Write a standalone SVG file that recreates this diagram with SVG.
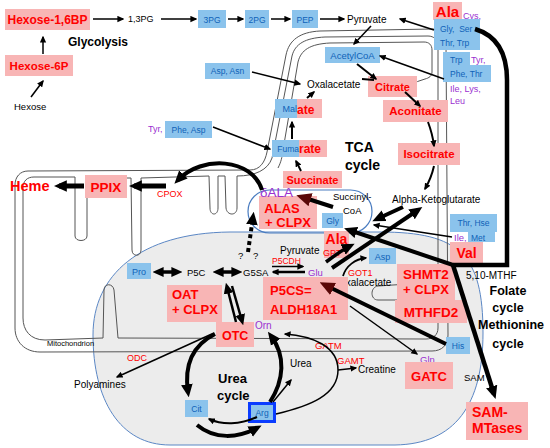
<svg xmlns="http://www.w3.org/2000/svg" width="550" height="448" viewBox="0 0 550 448">
<style>
text{font-family:"Liberation Sans",Arial,sans-serif}
.pk{fill:#f8b5b5}
.bl{fill:#8bc3ec}
.rt{fill:#ff0000;font-weight:bold}
.rs{fill:#ff0000}
.bt{fill:#0f62b8}
.pt{fill:#9b30d0}
.kt{fill:#000}
.kb{fill:#000;font-weight:bold}
.mito{stroke:#555;stroke-width:1;fill:none}
.t{stroke:#000;stroke-width:1.5;fill:none}
.k{stroke:#000;fill:none}
</style>
<defs>
<marker id="m" viewBox="0 0 10 10" refX="8" refY="5" markerWidth="7" markerHeight="7" markerUnits="userSpaceOnUse" orient="auto"><path d="M0,0.5 L10,5 L0,9.5 z"/></marker>
<marker id="mb" viewBox="0 0 10 10" refX="6" refY="5" markerWidth="13" markerHeight="13" markerUnits="userSpaceOnUse" orient="auto"><path d="M0,0.5 L10,5 L0,9.5 z"/></marker>
<marker id="mbs" viewBox="0 0 10 10" refX="6" refY="5" markerWidth="11" markerHeight="11" markerUnits="userSpaceOnUse" orient="auto-start-reverse"><path d="M0,0.5 L10,5 L0,9.5 z"/></marker>
<marker id="mr" viewBox="0 0 10 10" refX="6" refY="5" markerWidth="15" markerHeight="15" markerUnits="userSpaceOnUse" orient="auto"><path d="M0,0.5 L10,5 L0,9.5 z" fill="#5a0808"/></marker>
</defs>

<g id="compartments">
<path d="M93,335 C93,275 140,233 230,232 L380,232 C460,232 483,255 483,333 C483,405 455,444 395,445 L170,445 C120,445 93,400 93,335 Z" fill="#ececec" stroke="#5b87c5" stroke-width="1"/>
<path class="mito" d="M28,171 L250,170 C260,170 265,162 267,152 L286,55 C289,40 300,32 320,31 L433,29 C442,29 446,35 446,45 L448,335 C448,345 442,351 432,351 L40,352 C25,352 15,342 15,328 L15,185 C15,177 20,171 28,171 Z"/>
<path class="mito" d="M34,177 L75,177 L75,236 C75,242 87,242 87,236 L87,178 L131,178 L132,250 C132,257 141,257 141,250 L141,178 L209,176 L210,208 C210,216 218,216 218,208 L218,176 L225,176 L226,208 C227,216 237,216 237,208 L237,176 C255,176 268,170 272,158 L292,56 C295,44 305,38 325,37 L428,36 C434,36 438,40 438,46 L438,282 L378,286 C370,287 370,300 378,300 L438,300 L438,328 C438,335 433,339 426,339 L118,338 L114,290 C113,283 104,283 104,290 L103,338 L45,340 C30,340 23,330 23,318 L23,188 C23,181 27,177 34,177 Z"/>
<path class="mito" d="M278,168 C281,162 282,158 283,150 L298,62 C301,50 310,44 330,43 L424,42 C429,42 432,45 432,50 L432,72 C432,76 429,78 425,79 L419,81 C415,82 413,86 413,92"/>
<text x="47" y="345.5" font-size="7.5" class="kt">Mitochondrion</text>
<rect x="248" y="190" width="124" height="43" rx="21.5" fill="none" stroke="#4a7cc0" stroke-width="1.2"/>
</g>

<g id="glycolysis">
<g id="hexose16bp"><rect class="pk" x="5" y="9" width="85" height="21"/><text class="rt" x="47.5" y="23.8" font-size="12" text-anchor="middle">Hexose-1,6BP</text></g>
<g id="hexose6p"><rect class="pk" x="5" y="55" width="68" height="21"/><text class="rt" x="39" y="69.5" font-size="11.5" text-anchor="middle">Hexose-6P</text></g>
<g id="hexose"><text class="kt" x="14" y="110" font-size="9.5">Hexose</text></g>
<g id="glycolysis-label"><text class="kb" x="68" y="46" font-size="12">Glycolysis</text></g>
<g id="pg13"><text class="kt" x="128" y="22" font-size="9">1,3PG</text></g>
<g id="pg3"><rect class="bl" x="198" y="10" width="28" height="18"/><text class="bt" x="212" y="22.5" font-size="8.5" text-anchor="middle">3PG</text></g>
<g id="pg2"><rect class="bl" x="245" y="10" width="24" height="18"/><text class="bt" x="257" y="22.5" font-size="8.5" text-anchor="middle">2PG</text></g>
<g id="pep"><rect class="bl" x="292" y="10" width="26" height="18"/><text class="bt" x="305" y="22.5" font-size="8.5" text-anchor="middle">PEP</text></g>
<g id="pyruvate"><text class="kt" x="347" y="22.5" font-size="10">Pyruvate</text></g>
</g>

<g id="aminoacids-top">
<g id="ala-top"><rect class="pk" x="433" y="2" width="29" height="18"/><text class="rt" x="447.5" y="16.5" font-size="15" text-anchor="middle">Ala</text><text class="pt" x="463" y="19" font-size="9">Cys,</text></g>
<g id="glyser"><rect class="bl" x="434" y="19" width="46" height="31"/><text class="bt" x="440" y="32" font-size="8.5" xml:space="preserve">Gly,  Ser</text><text class="bt" x="440" y="45.5" font-size="8.5">Thr, Trp</text></g>
<g id="trp"><rect class="bl" x="443" y="52" width="27" height="14"/><rect class="bl" x="443" y="65" width="48" height="17"/><text class="bt" x="450" y="63" font-size="8.5">Trp</text><text class="pt" x="471" y="63" font-size="9">Tyr,</text><text class="bt" x="450" y="76.5" font-size="8.5">Phe, Thr</text><text class="pt" x="450" y="92" font-size="9">Ile, Lys,</text><text class="pt" x="450" y="104" font-size="9">Leu</text></g>
<g id="aspasn"><rect class="bl" x="205" y="63" width="45" height="16"/><text class="bt" x="227.5" y="74" font-size="8.5" text-anchor="middle">Asp, Asn</text></g>
<g id="pheasp"><text class="pt" x="148" y="131.5" font-size="9">Tyr,</text><rect class="bl" x="165" y="121" width="47" height="17"/><text class="bt" x="188.5" y="132.5" font-size="8.5" text-anchor="middle">Phe, Asp</text></g>
</g>

<g id="tca">
<g id="acetylcoa"><rect class="bl" x="325" y="47" width="55" height="16"/><text class="bt" x="352.5" y="58.5" font-size="9.5" text-anchor="middle">AcetylCoA</text></g>
<g id="oxalacetate-tca"><text class="kt" x="307" y="87.5" font-size="10">Oxalacetate</text></g>
<g id="citrate"><rect class="pk" x="368" y="76" width="49" height="21"/><text class="rt" x="392.5" y="90.5" font-size="11" text-anchor="middle">Citrate</text></g>
<g id="aconitate"><rect class="pk" x="383" y="100" width="65" height="22"/><text class="rt" x="415.5" y="115" font-size="11.5" text-anchor="middle">Aconitate</text></g>
<g id="isocitrate"><rect class="pk" x="398" y="143" width="62" height="22"/><text class="rt" x="429" y="158" font-size="11.5" text-anchor="middle">Isocitrate</text></g>
<g id="akg"><text class="kt" x="392" y="202.5" font-size="10">Alpha-Ketoglutarate</text></g>
<g id="succinylcoa"><text class="kt" x="333" y="200" font-size="9.5">Succinyl-</text><text class="kt" x="343" y="214" font-size="9.5">CoA</text></g>
<g id="gly"><rect class="bl" x="322" y="213" width="21" height="15"/><text class="bt" x="332.5" y="223.5" font-size="8.5" text-anchor="middle">Gly</text></g>
<g id="succinate"><rect class="pk" x="283" y="171" width="59" height="17"/><text class="rt" x="312.5" y="183.5" font-size="11" text-anchor="middle">Succinate</text></g>
<g id="fumarate"><rect class="bl" x="272" y="140" width="28" height="17"/><rect class="pk" x="299" y="140" width="28" height="17"/><text class="bt" x="299" y="151.5" font-size="8.5" text-anchor="end">Fuma</text><text class="rt" x="299" y="153" font-size="12">rate</text></g>
<g id="malate"><rect class="bl" x="275" y="99" width="23" height="19"/><rect class="pk" x="297" y="99" width="25" height="19"/><text class="bt" x="297" y="111.5" font-size="9" text-anchor="end">Mal</text><text class="rt" x="297" y="113.5" font-size="12">ate</text></g>
<g id="tca-label"><text class="kb" x="345" y="152" font-size="14">TCA</text><text class="kb" x="345" y="170" font-size="14">cycle</text></g>
</g>

<g id="heme">
<g id="dala"><rect class="pk" x="259" y="196" width="58" height="33"/><text class="pt" x="260" y="197" font-size="13.5">δALA</text><text class="rt" x="282" y="212.5" font-size="13" text-anchor="middle">ALAS</text><text class="rt" x="288" y="227" font-size="13" text-anchor="middle">+ CLPX</text></g>
<g id="ppix"><rect class="pk" x="85" y="175" width="42" height="23"/><text class="rt" x="106" y="191.5" font-size="13.5" text-anchor="middle">PPIX</text></g>
<g id="hemelabel"><text class="rt" x="10" y="191" font-size="14.5">Heme</text></g>
<g id="cpox"><text class="rs" x="157" y="197" font-size="9">CPOX</text></g>
</g>

<g id="amino">
<g id="pro"><rect class="bl" x="127" y="263" width="24" height="16"/><text class="bt" x="139" y="274.5" font-size="9" text-anchor="middle">Pro</text></g>
<g id="p5c"><text class="kt" x="187" y="275.5" font-size="9.5">P5C</text></g>
<g id="g5sa"><text class="kt" x="243" y="275.5" font-size="9.5">G5SA</text><text class="kt" x="238" y="259" font-size="9.5">?</text><text class="kt" x="253" y="259" font-size="9.5">?</text></g>
<g id="pyruvate2"><text class="kt" x="280" y="254" font-size="10">Pyruvate</text></g>
<g id="p5cdh"><text class="rs" x="272" y="264" font-size="8.5">P5CDH</text></g>
<g id="glu"><text class="pt" x="308" y="275.5" font-size="9.5">Glu</text></g>
<g id="ala2"><rect class="pk" x="324" y="231" width="25" height="27"/><text class="rt" x="336.5" y="244" font-size="14" text-anchor="middle">Ala</text><text class="rs" x="323" y="256" font-size="9">GPT</text></g>
<g id="asp"><rect class="bl" x="369" y="248" width="27" height="16"/><text class="bt" x="382.5" y="259.5" font-size="9" text-anchor="middle">Asp</text></g>
<g id="got1"><text class="rs" x="348" y="276" font-size="9">GOT1</text></g>
<g id="oxalacetate2"><text class="kt" x="338" y="286" font-size="10">Oxalacetate</text></g>
<g id="p5cs"><rect class="pk" x="263" y="277" width="85" height="43"/><text class="rt" x="270" y="294.5" font-size="13">P5CS=</text><text class="rt" x="270" y="314" font-size="13">ALDH18A1</text></g>
<g id="shmt2"><rect class="pk" x="397" y="264" width="58" height="37"/><text class="rt" x="426" y="279" font-size="13.5" text-anchor="middle">SHMT2</text><text class="rt" x="426" y="294" font-size="13" text-anchor="middle">+ CLPX</text></g>
<g id="mthfd2"><rect class="pk" x="395" y="300" width="72" height="23"/><text class="rt" x="431" y="316.5" font-size="13.5" text-anchor="middle">MTHFD2</text></g>
<g id="thrhse"><rect class="bl" x="450" y="214" width="47" height="18"/><rect class="bl" x="468" y="231" width="27" height="11"/><text class="bt" x="473.5" y="226" font-size="8.5" text-anchor="middle">Thr, Hse</text><text class="pt" x="454" y="241" font-size="9.5">Ile,</text><text class="bt" x="471" y="240.5" font-size="8.5">Met</text></g>
<g id="val"><rect class="pk" x="450" y="242" width="33" height="21"/><text class="rt" x="466.5" y="258" font-size="14" text-anchor="middle">Val</text></g>
<g id="mthf"><text class="kt" x="466" y="278.5" font-size="10">5,10-MTHF</text></g>
<g id="folate-label"><text class="kb" x="508" y="294.5" font-size="12.5" text-anchor="middle">Folate</text><text class="kb" x="508" y="311.5" font-size="12.5" text-anchor="middle">cycle</text><text class="kb" x="511" y="329" font-size="12.5" text-anchor="middle">Methionine</text><text class="kb" x="508" y="347.5" font-size="12.5" text-anchor="middle">cycle</text></g>
<g id="oat"><rect class="pk" x="167" y="285" width="55" height="37"/><text class="rt" x="172" y="298.5" font-size="13">OAT</text><text class="rt" x="172" y="314" font-size="13">+ CLPX</text></g>
<g id="otc"><rect class="pk" x="216" y="322" width="38" height="25"/><text class="rt" x="222" y="340" font-size="12.5">OTC</text></g>
<g id="orn"><text class="pt" x="255" y="328.5" font-size="10">Orn</text></g>
<g id="odc"><text class="rs" x="127" y="361" font-size="9">ODC</text></g>
<g id="polyamines"><text class="kt" x="74" y="387.5" font-size="10">Polyamines</text></g>
<g id="urea-label"><text class="kb" x="218" y="382.5" font-size="13">Urea</text><text class="kb" x="217" y="400" font-size="13">cycle</text></g>
<g id="urea"><text class="kt" x="290" y="366.5" font-size="10">Urea</text></g>
<g id="gatm"><text class="rs" x="315" y="348.5" font-size="9.5">GATM</text></g>
<g id="gamt"><text class="rs" x="337" y="364" font-size="9.5">GAMT</text></g>
<g id="creatine"><text class="kt" x="358" y="373" font-size="10">Creatine</text></g>
<g id="cit"><rect class="bl" x="185" y="400" width="23" height="17"/><text class="bt" x="196.5" y="411.5" font-size="8.5" text-anchor="middle">Cit</text></g>
<g id="arg"><rect x="249.5" y="403.5" width="25" height="18" fill="#8bc3ec" stroke="#0a3cff" stroke-width="3"/><text class="bt" x="262" y="415.5" font-size="8.5" text-anchor="middle">Arg</text></g>
<g id="gln"><text class="pt" x="420" y="362.5" font-size="9.5">Gln</text></g>
<g id="his"><rect class="bl" x="446" y="337" width="24" height="17"/><text class="bt" x="458" y="348.5" font-size="8.5" text-anchor="middle">His</text></g>
<g id="gatc"><rect class="pk" x="405" y="362" width="48" height="27"/><text class="rt" x="429" y="380.5" font-size="13" text-anchor="middle">GATC</text></g>
<g id="sam"><text class="kt" x="464" y="380.5" font-size="9.5">SAM</text></g>
<g id="sammtases"><rect class="pk" x="466" y="402" width="62" height="38"/><text class="rt" x="472" y="417" font-size="14">SAM-</text><text class="rt" x="472" y="433" font-size="14">MTases</text></g>
</g>

<g id="connectors">
<path class="t" d="M31,97 L43,81" marker-end="url(#m)"/>
<path class="t" d="M43,54 L43,37" marker-end="url(#m)"/>
<path class="t" stroke-width="1.8" d="M93,19 L123,19" marker-end="url(#m)"/>
<path class="t" stroke-width="1.8" d="M161,19 L196,19" marker-end="url(#m)"/>
<path class="t" stroke-width="1.8" d="M228,19 L243,19" marker-end="url(#m)"/>
<path class="t" stroke-width="1.8" d="M271,19 L290,19" marker-end="url(#m)"/>
<path class="t" stroke-width="1.8" d="M320,19 L344,19" marker-end="url(#m)"/>
<path class="t" d="M434,30 L400,19" marker-end="url(#m)"/>
<path class="t" d="M371,26 L354,44" marker-end="url(#m)"/>
<path class="t" d="M444,79 L380,56" marker-end="url(#m)"/>
<path class="t" d="M252,72 L300,84" marker-end="url(#m)"/>
<path class="k" stroke-width="2" d="M357,64 L376,79" marker-end="url(#m)"/>
<path class="k" stroke-width="2" d="M362,79 L374,80"/>
<path class="k" stroke-width="2" d="M405,92 L420,106" marker-end="url(#m)"/>
<path class="k" stroke-width="2" d="M428,122 C431,130 433,137 434,146" marker-end="url(#m)"/>
<path class="k" stroke-width="2" d="M434,166 C432,175 429,182 425,189" marker-end="url(#m)"/>
<path class="k" stroke-width="4" d="M403,207 L377,219" marker-end="url(#mb)"/>
<path class="k" stroke-width="4" d="M332,268 L418,210" marker-end="url(#mb)"/>
<path class="t" d="M452,237 L374,225" marker-end="url(#m)"/>
<path class="k" stroke-width="4" d="M333,207 L302,197" marker-end="url(#mr)"/>
<path class="k" stroke-width="2" d="M301,171 L296,161" marker-end="url(#m)"/>
<path class="k" stroke-width="2" d="M292,139 L292,122" marker-end="url(#m)"/>
<path class="k" stroke-width="2" d="M307,98 L314,92" marker-end="url(#m)"/>
<path class="t" d="M213,127 L270,149" marker-end="url(#m)"/>
<path class="k" stroke-width="4" d="M262,190 C252,158 202,155 178,180" marker-end="url(#mb)"/>
<path class="k" stroke-width="5" d="M166,186 L134,186" marker-end="url(#mb)"/>
<path class="k" stroke-width="5" d="M84,186 L59,186" marker-end="url(#mb)"/>
<path class="k" stroke-width="4" stroke-dasharray="4,3" d="M248,252 L253,217" marker-end="url(#mb)"/>
<path class="k" stroke-width="3.5" d="M157,272 L178,272" marker-start="url(#mbs)" marker-end="url(#mbs)"/>
<path class="k" stroke-width="3.5" d="M217,272 L238,272" marker-start="url(#mbs)" marker-end="url(#mbs)"/>
<path class="k" stroke-width="1.5" d="M272,266.5 L303,266.5" marker-end="url(#m)"/>
<path class="k" stroke-width="2.5" d="M305,272 L273,272" marker-end="url(#m)"/>
<path class="k" stroke-width="2.5" d="M236,322 L227,287" marker-end="url(#mbs)"/>
<path class="k" stroke-width="2.5" d="M232,286 L242,321" marker-end="url(#mbs)"/>
<path class="t" d="M214,333 L117,377" marker-end="url(#m)"/>
<path class="k" stroke-width="4" d="M215,334 C193,345 184,365 188,392" marker-end="url(#mb)"/>
<path class="k" stroke-width="4" d="M197,425 C215,440 238,438 257,428" marker-end="url(#mb)"/>
<path class="k" stroke-width="2" d="M257,417 C240,425 222,425 209,419" marker-end="url(#m)"/>
<path class="k" stroke-width="4" d="M270,402 C284,380 286,356 271,336" marker-end="url(#mb)"/>
<path class="t" d="M273,402 L291,380" marker-end="url(#m)"/>
<path class="t" d="M276,414 C310,406 338,395 338,370 C338,346 312,336 285,334" marker-end="url(#m)"/>
<path class="t" d="M338,370 L356,368" marker-end="url(#m)"/>
<path class="k" stroke-width="3.5" d="M326,262 C334,256 342,250 350,246" marker-end="url(#mb)"/>
<path class="k" stroke-width="1.8" d="M343,276 C346,266 355,259 366,258" marker-end="url(#m)"/>
<path class="k" stroke-width="4" d="M446,344 L325,285" marker-end="url(#mr)"/>
<path class="t" d="M350,306 L417,354" marker-end="url(#m)"/>
<path class="k" stroke-width="4.5" stroke-linejoin="miter" d="M475,29 C495,35 507,50 507,80 L507,265 L453,265"/>
<path class="k" stroke-width="4" d="M453,265 L349,230" marker-end="url(#mb)"/>
<path class="k" stroke-width="4.5" d="M453,265 L494,394" marker-end="url(#mb)"/>
</g>
</svg>
